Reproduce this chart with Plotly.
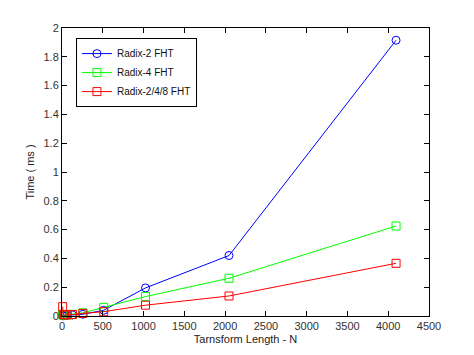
import plotly.graph_objects as go

N = [8, 16, 32, 64, 128, 256, 512, 1024, 2048, 4096]
radix2 = [0.002, 0.002, 0.003, 0.004, 0.007, 0.012, 0.04, 0.195, 0.42, 1.915]
radix4 = [0.012, 0.006, 0.006, 0.008, 0.012, 0.022, 0.06, 0.135, 0.262, 0.625]
radix248 = [0.065, 0.01, 0.008, 0.008, 0.01, 0.018, 0.03, 0.075, 0.139, 0.366]
names = ["Radix-2 FHT", "Radix-4 FHT", "Radix-2/4/8 FHT"]
x_ticks = [0, 500, 1000, 1500, 2000, 2500, 3000, 3500, 4000, 4500]
y_ticks = [0, 0.2, 0.4, 0.6, 0.8, 1, 1.2, 1.4, 1.6, 1.8, 2]

fig = go.Figure()
series = [(radix2, "#0000ff", "circle-open"),
          (radix4, "#00ff00", "square-open"),
          (radix248, "#ff0000", "square-open")]
for (vals, col, sym), nm in zip(series, names):
    fig.add_trace(go.Scatter(x=N, y=vals, mode="lines+markers", name=nm, cliponaxis=False,
                             line=dict(color=col, width=1),
                             marker=dict(symbol=sym, size=8, color=col, line=dict(width=1, color=col))))

axis_common = dict(showgrid=False, zeroline=False, showline=True, linecolor="black", linewidth=1,
                   mirror="ticks", ticks="inside", ticklen=5, tickcolor="black",
                   tickfont=dict(family="Liberation Sans, Arial", size=11, color="#333"))
fig.update_xaxes(range=[0, 4500], tickvals=x_ticks, ticktext=[str(v) for v in x_ticks],
                 title=dict(text="Tarnsform Length - N", font=dict(family="Liberation Sans, Arial", size=11, color="#222"), standoff=4),
                 **axis_common)
fig.update_yaxes(range=[0, 2], tickvals=y_ticks, ticktext=[("%g" % v) for v in y_ticks],
                 title=dict(text="Time ( ms )", font=dict(family="Liberation Sans, Arial", size=11, color="#222"), standoff=6),
                 **axis_common)
fig.update_layout(width=474, height=355, margin=dict(l=62, r=45, t=28, b=39),
                  paper_bgcolor="white", plot_bgcolor="white", showlegend=True,
                  legend=dict(x=0.038, y=0.965, xanchor="left", yanchor="top",
                              bgcolor="white", bordercolor="black", borderwidth=1,
                              font=dict(family="Liberation Sans, Arial", size=10, color="#111"),
                              tracegroupgap=0, itemwidth=30))
fig.write_html("out.html")
